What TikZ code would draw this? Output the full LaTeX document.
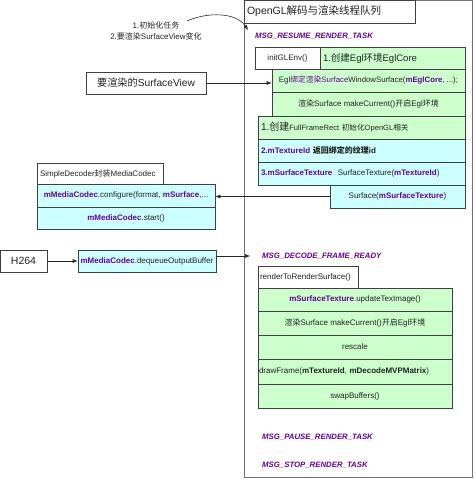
\documentclass[tikz,border=0pt]{standalone}
\usepackage{fontspec}
\setmainfont{Liberation Sans}
\newfontfamily\cjk{Noto Sans CJK SC}
\usetikzlibrary{arrows.meta}
\definecolor{gfill}{HTML}{CCFFCC}
\definecolor{cfill}{HTML}{CCFFFF}
\definecolor{purp}{HTML}{660099}
\definecolor{ink}{HTML}{222222}
\newcommand\zh[1]{{\cjk #1}}
\newcommand\pb[1]{\textcolor{purp}{\bfseries #1}}
\begin{document}
\begin{tikzpicture}[x=1pt,y=-1pt,
  box/.style={draw=black!75, line width=0.6pt, inner sep=0pt, text=ink,
    font=\fontsize{8}{9.6}\selectfont},
  wbox/.style={box, fill=white},
  gbox/.style={box, fill=gfill},
  cbox/.style={box, fill=cfill},
  msg/.style={font=\fontsize{7.8}{9}\selectfont\bfseries\itshape, text=purp, inner sep=0pt, anchor=west},
  arr/.style={-{Latex[length=5pt,width=4pt]}, draw=black!85, line width=0.6pt}]
\useasboundingbox (0,0) rectangle (474,479);
% swimlane frame
\draw[black!55, line width=0.7pt] (244,0) rectangle (472,477);
\node[wbox, minimum width=171, minimum height=23, text width=165, align=left,
  font=\fontsize{10.5}{12}\selectfont] (title) at (329.5,11.5) {OpenGL\zh{解码与渲染线程队列}};

% upper part of the render thread
\node[msg] (resume) at (255,36) {MSG\_RESUME\_RENDER\_TASK};
\node[wbox, minimum width=65, minimum height=22] (initgl) at (287.5,58) {initGLEnv()};
\node[gbox, minimum width=145, minimum height=22, text width=139, align=left,
  font=\fontsize{9.5}{11}\selectfont] (eglcore) at (392.5,58) {1.\zh{创建}Egl\zh{环境}EglCore};
\node[gbox, minimum width=193, minimum height=23, font=\fontsize{7.8}{9.4}\selectfont] (eglbind) at (368.5,80.5)
  {Egl\textcolor{purp}{\zh{绑定渲染}Surface}WindowSurface(\pb{mEglCore}, ...);};
\node[gbox, minimum width=193, minimum height=24] (makecura) at (368.5,104)
  {\zh{渲染}Surface makeCurrent()\zh{开启}Egl\zh{环境}};
\node[gbox, minimum width=207, minimum height=23, text width=201, align=left] (fullframe) at (361.5,127.5)
  {{\fontsize{10}{11}\selectfont 1.\zh{创建}}{\fontsize{7.6}{9}\selectfont FullFrameRect \zh{初始化}OpenGL\zh{相关}}};
\node[cbox, minimum width=207, minimum height=23, text width=201, align=left] (texid) at (361.5,150.5)
  {\pb{2.mTextureId} {\bfseries\zh{返回绑定的纹理}id}};
\node[cbox, minimum width=207, minimum height=23, text width=201, align=left] (surftex) at (361.5,173.5)
  {\pb{3.mSurfaceTexture}\ \ SurfaceTexture(\pb{mTextureId})};
\node[cbox, minimum width=135, minimum height=23] (surface) at (397.5,196.5)
  {Surface(\pb{mSurfaceTexture})};

% left side
\node[inner sep=0pt, align=center, text=ink, font=\fontsize{8}{11}\selectfont] (tasks) at (156,31)
  {1.\zh{初始化任务}\\2.\zh{要渲染}SurfaceView\zh{变化}};
\node[wbox, minimum width=120, minimum height=22, font=\fontsize{10.2}{12}\selectfont] (surfview) at (146,83)
  {\zh{要渲染的}SurfaceView};
\node[wbox, minimum width=126, minimum height=21, text width=120, align=left] (sdhead) at (100,173.5)
  {SimpleDecoder\zh{封装}MediaCodec};
\node[cbox, minimum width=178, minimum height=23] (configure) at (126,195.5)
  {\pb{mMediaCodec}.configure(format, \pb{mSurface},...};
\node[cbox, minimum width=178, minimum height=22] (start) at (126,218)
  {\pb{mMediaCodec}.start()};
\node[wbox, minimum width=47, minimum height=22, font=\fontsize{10.5}{12}\selectfont] (h264) at (23.5,261) {H264};
\node[cbox, minimum width=138, minimum height=22] (dequeue) at (147,261)
  {\pb{mMediaCodec}.dequeueOutputBuffer};

% lower part of the render thread
\node[msg] (decode) at (262,256) {MSG\_DECODE\_FRAME\_READY};
\node[wbox, minimum width=100, minimum height=22, text width=96, align=left] (rtrs) at (308,277)
  {renderToRenderSurface()};
\node[gbox, minimum width=194, minimum height=23] (update) at (355,299.5)
  {\pb{mSurfaceTexture}.updateTexImage()};
\node[gbox, minimum width=194, minimum height=24] (makecurb) at (355,323)
  {\zh{渲染}Surface makeCurrent()\zh{开启}Egl\zh{环境}};
\node[gbox, minimum width=194, minimum height=24] (rescale) at (355,347) {rescale};
\node[gbox, minimum width=194, minimum height=25, text width=192, align=left] (drawframe) at (355,371.5)
  {drawFrame(\textbf{mTextureId}, \textbf{mDecodeMVPMatrix})};
\node[gbox, minimum width=194, minimum height=24] (swap) at (355,396) {swapBuffers()};
\node[msg] (pause) at (262,437) {MSG\_PAUSE\_RENDER\_TASK};
\node[msg] (stop) at (262,465) {MSG\_STOP\_RENDER\_TASK};

% connectors
\coordinate (tstart) at (187,21);
\draw[arr] (tstart) .. controls (207,12) and (236,12) .. ([xshift=-7pt,yshift=6pt]resume.west);
\draw[arr] (surfview.east) -- (surfview.east -| eglbind.west);
\draw[arr] (surface.west) -- (surface.west -| configure.east);
\draw[arr] (h264.east) -- (dequeue.west);
\draw[arr, shorten >=12pt] (dequeue.east |- decode.west) -- (decode.west);
\end{tikzpicture}
\end{document}
